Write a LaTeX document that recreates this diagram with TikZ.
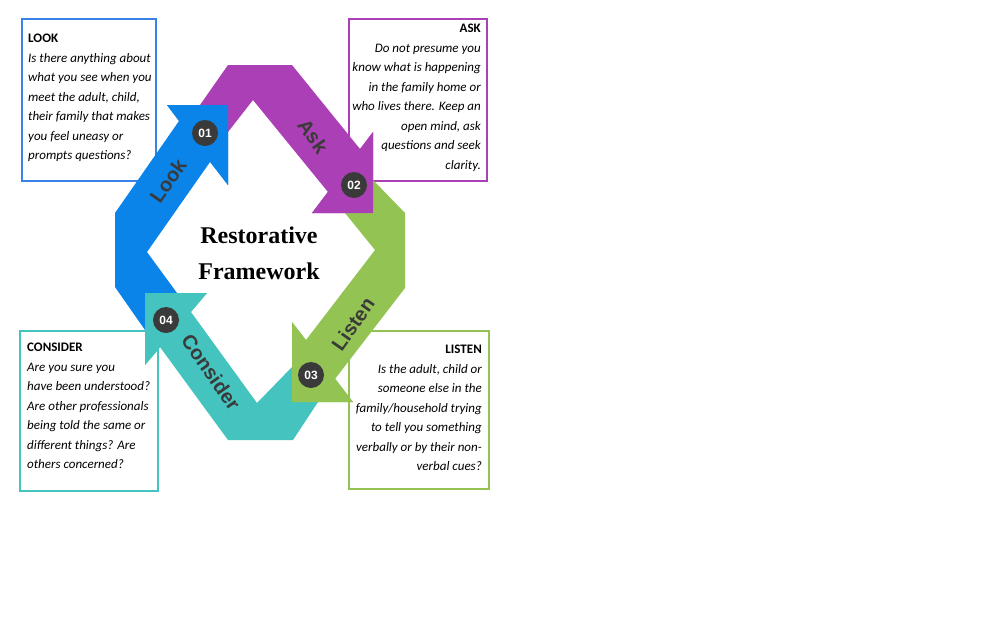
\documentclass[tikz,border=0pt]{standalone}
\usepackage{fontspec}
\setmainfont{Carlito}
\newfontfamily\headf{Liberation Serif}
\newfontfamily\lblf{Liberation Sans}
\definecolor{cb}{HTML}{0A84E8}
\definecolor{cp}{HTML}{AB40B6}
\definecolor{cg}{HTML}{93C453}
\definecolor{ct}{HTML}{45C4BF}
\definecolor{cbb}{HTML}{3B82E6}
\definecolor{dk}{HTML}{3A3A3A}
\begin{document}
\begin{tikzpicture}[x=1pt,y=-1pt,
  box/.style={line width=2.5pt,fill=white},
  txt/.style={align=left,font=\fontsize{13}{19.5}\selectfont\itshape,inner sep=0pt,anchor=north west},
  txr/.style={align=right,font=\fontsize{13}{19.5}\selectfont\itshape,inner sep=0pt,anchor=north east},
  num/.style={circle,fill=dk,text=white,minimum size=26pt,inner sep=0pt,font=\lblf\bfseries\fontsize{12}{12}\selectfont},
  lbl/.style={text=dk,font=\lblf\bfseries\fontsize{20}{20}\selectfont}]
\useasboundingbox (0,0) rectangle (1000,625);
\fill[white] (0,0) rectangle (1000,625);
% boxes
\draw[box,draw=cbb] (22,19) rectangle (156,181);
\draw[box,draw=cp] (349,19) rectangle (487,181);
\draw[box,draw=ct] (20,331) rectangle (158,491);
\draw[box,draw=cg] (349,331) rectangle (489,489);
\node[txt] (tlook) at (28,34) {{\upshape\bfseries LOOK}\\Is there anything about\\what you see when you\\meet the adult, child,\\their family that makes\\you feel uneasy or\\prompts questions?};
\node[txr] (task) at (481,24) {{\upshape\bfseries ASK}\\Do not presume you\\know what is happening\\in the family home or\\who lives there. Keep an\\open mind, ask\\questions and seek\\clarity.};
\node[txt] (tcons) at (27,343) {{\upshape\bfseries CONSIDER}\\Are you sure you\\have been understood?\\Are other professionals\\being told the same or\\different things? Are\\others concerned?};
\node[txr] (tlist) at (482,345) {{\upshape\bfseries LISTEN}\\Is the adult, child or\\someone else in the\\family/household trying\\to tell you something\\verbally or by their non-\\verbal cues?};
% bands
\fill[cb] (145,330)--(115,287)--(115,213)--(179,121)--(167,105)--(228,105)--(228,185)--(210,162)--(147,252)--(177,293)--cycle;
\fill[cp] (200,105)--(228,65)--(292,65)--(360,149)--(373,132)--(373,213)--(312,213)--(328,192)--(253,100)--(228,132)--cycle;
\fill[cg] (373,180)--(405,213)--(405,288)--(335,379)--(353,402)--(292,402)--(292,322)--(306,340)--(375,250)--(345,213)--cycle;
\fill[ct] (318,402)--(293,440)--(228,440)--(160,347)--(145,365)--(145,293)--(207,293)--(191,312)--(257,403)--(292,367)--cycle;
% heads on top
\fill[cb] (167,105)--(228,105)--(228,185)--cycle;
\fill[cp] (373,132)--(373,213)--(312,213)--cycle;
\fill[cg] (353,402)--(292,402)--(292,322)--cycle;
\fill[ct] (207,293)--(145,293)--(145,365)--cycle;
% numbers
\node[num] (n1) at (205,133) {01};
\node[num] (n2) at (354,185) {02};
\node[num] (n3) at (311,375) {03};
\node[num] (n4) at (166,320) {04};
% labels
\node[lbl,rotate=55] (l1) at (168,181) {Look};
\node[lbl,rotate=-55] (l2) at (313,136) {Ask};
\node[lbl,rotate=55] (l3) at (353,324) {Listen};
\node[lbl,rotate=-55] (l4) at (211,372) {Consider};
\node[font=\headf\bfseries\fontsize{24}{36}\selectfont,align=center] (c) at (259,253) {Restorative\\Framework};
\end{tikzpicture}
\end{document}
